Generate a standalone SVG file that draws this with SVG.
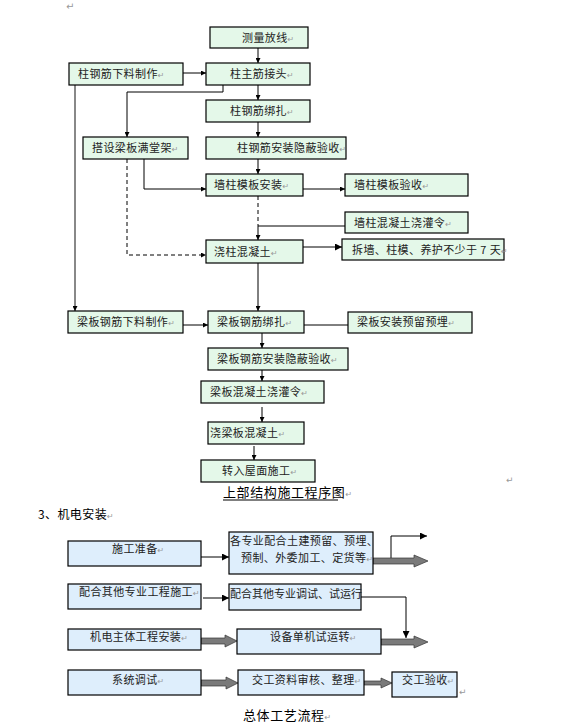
<svg xmlns="http://www.w3.org/2000/svg" width="574" height="727" viewBox="0 0 574 727">
<defs>
<style>
.g rect{fill:#e4f8e9;stroke:#000;stroke-width:1.2}
.b rect{fill:#deeefc;stroke:#000;stroke-width:1.2}
text{font-family:"Noto Sans CJK SC","Liberation Sans",sans-serif;font-size:11px;fill:#222;letter-spacing:0.4px}
.pm{font-family:"DejaVu Sans",sans-serif;font-size:8px;fill:#999;letter-spacing:0}
.c line,.c polyline,.c path{fill:none;stroke:#000;stroke-width:1}
.dash{stroke-dasharray:4 3}
.grey{stroke:#888 !important;stroke-width:2 !important}
.thick{fill:#7a7a7a;stroke:#333;stroke-width:0.7}
.cap{font-size:13px;fill:#000;letter-spacing:0.6px}
</style>
<marker id="a" viewBox="0 0 8 8" refX="8" refY="4" markerWidth="5" markerHeight="5" orient="auto" markerUnits="userSpaceOnUse"><path d="M0,0 L8,4 L0,8 Z" fill="#000"/></marker>
<marker id="af" viewBox="0 0 8 8" refX="8" refY="4" markerWidth="7" markerHeight="7" orient="auto" markerUnits="userSpaceOnUse"><path d="M0,0 L8,4 L0,8 Z" fill="#000"/></marker>
</defs>
<rect width="574" height="727" fill="#fff"/>
<text x="66" y="10" class="pm" style="font-size:10px">↵</text>

<g class="c">
<line x1="258" y1="48" x2="258" y2="63" marker-end="url(#a)"/>
<line x1="183" y1="73" x2="206" y2="73" marker-end="url(#a)"/>
<polyline points="223,85 223,92 127,92 127,137" marker-end="url(#a)"/>
<line x1="258" y1="85" x2="258" y2="100" marker-end="url(#a)"/>
<line x1="258" y1="122" x2="258" y2="137" marker-end="url(#a)"/>
<line x1="258" y1="159" x2="258" y2="174" marker-end="url(#a)"/>
<polyline points="144,159 144,189 206,189" marker-end="url(#a)"/>
<polyline class="dash" points="127,159 127,255 206,255" marker-end="url(#a)"/>
<line x1="303" y1="189" x2="345" y2="189" marker-end="url(#a)"/>
<line class="dash" x1="258" y1="196" x2="258" y2="226"/>
<line x1="258" y1="226" x2="258" y2="240" marker-end="url(#a)"/>
<line x1="258" y1="226" x2="345" y2="226"/>
<line x1="303" y1="247" x2="342" y2="247" marker-end="url(#af)"/>
<line x1="258" y1="263" x2="258" y2="311" marker-end="url(#a)"/>
<line class="grey" x1="75" y1="85" x2="75" y2="311" marker-end="url(#a)"/>
<line x1="183" y1="325" x2="208" y2="325" marker-end="url(#a)"/>
<line x1="304" y1="325" x2="348" y2="325"/>
<line x1="262" y1="333" x2="262" y2="348" marker-end="url(#a)"/>
<line x1="262" y1="370" x2="262" y2="381" marker-end="url(#a)"/>
<line x1="262" y1="407" x2="262" y2="422" marker-end="url(#a)"/>
<line x1="254" y1="446" x2="254" y2="460" marker-end="url(#a)"/>

<line x1="201" y1="557" x2="229" y2="557" marker-end="url(#af)"/>
<line x1="203" y1="598" x2="229" y2="598" marker-end="url(#af)"/>
<polyline points="391,561 391,536 427,536" marker-end="url(#af)"/>
<polyline points="361,597 406,597 406,638" marker-end="url(#af)"/>
<polygon class="thick" points="373,558 414,558 414,555 428,561 414,567 414,564 373,564"/>
<polygon class="thick" points="381,639 414,639 414,636 428,642 414,648 414,645 381,645"/>
<polygon class="thick" points="201,638 225,638 225,635 237,641 225,647 225,644 201,644"/>
<polygon class="thick" points="201,680 226,680 226,677 238,683 226,689 226,686 201,686"/>
<polygon class="thick" points="364,681 381,681 381,678 392,683 381,688 381,685 364,685"/>
</g>

<g id="n1" class="g"><rect x="210" y="27" width="98" height="21"/><text x="242" y="42">测量放线<tspan class="pm">↵</tspan></text></g>
<g id="n2" class="g"><rect x="69" y="63" width="114" height="22"/><text x="78" y="78">柱钢筋下料制作<tspan class="pm">↵</tspan></text></g>
<g id="n3" class="g"><rect x="206" y="63" width="104" height="22"/><text x="230" y="78">柱主筋接头<tspan class="pm">↵</tspan></text></g>
<g id="n4" class="g"><rect x="206" y="100" width="104" height="22"/><text x="230" y="115">柱钢筋绑扎<tspan class="pm">↵</tspan></text></g>
<g id="n5" class="g"><rect x="83" y="137" width="105" height="22"/><text x="92" y="152">搭设梁板满堂架<tspan class="pm">↵</tspan></text></g>
<g id="n6" class="g"><rect x="206" y="137" width="140" height="22"/><text x="237" y="152">柱钢筋安装隐蔽验收<tspan class="pm">↵</tspan></text></g>
<g id="n7" class="g"><rect x="206" y="174" width="97" height="22"/><text x="214" y="189">墙柱模板安装<tspan class="pm">↵</tspan></text></g>
<g id="n8" class="g"><rect x="345" y="174" width="123" height="22"/><text x="354" y="189">墙柱模板验收<tspan class="pm">↵</tspan></text></g>
<g id="n9" class="g"><rect x="345" y="212" width="123" height="21"/><text x="354" y="227">墙柱混凝土浇灌令<tspan class="pm">↵</tspan></text></g>
<g id="n10" class="g"><rect x="342" y="239" width="162" height="21"/><text x="352" y="254">拆墙、柱模、养护不少于 7 天<tspan class="pm">↵</tspan></text></g>
<g id="n11" class="g"><rect x="206" y="240" width="97" height="23"/><text x="214" y="256">浇柱混凝土<tspan class="pm">↵</tspan></text></g>
<g id="n12" class="g"><rect x="68" y="311" width="115" height="22"/><text x="77" y="326">梁板钢筋下料制作<tspan class="pm">↵</tspan></text></g>
<g id="n13" class="g"><rect x="208" y="311" width="96" height="22"/><text x="217" y="326">梁板钢筋绑扎<tspan class="pm">↵</tspan></text></g>
<g id="n14" class="g"><rect x="348" y="312" width="124" height="21"/><text x="357" y="326">梁板安装预留预埋<tspan class="pm">↵</tspan></text></g>
<g id="n15" class="g"><rect x="208" y="348" width="140" height="22"/><text x="217" y="363">梁板钢筋安装隐蔽验收<tspan class="pm">↵</tspan></text></g>
<g id="n16" class="g"><rect x="201" y="381" width="123" height="22"/><text x="210" y="396">梁板混凝土浇灌令<tspan class="pm">↵</tspan></text></g>
<g id="n17" class="g"><rect x="208" y="422" width="96" height="22"/><text x="210" y="437">浇梁板混凝土<tspan class="pm">↵</tspan></text></g>
<g id="n18" class="g"><rect x="201" y="460" width="114" height="22"/><text x="222" y="475">转入屋面施工<tspan class="pm">↵</tspan></text></g>

<text x="223" y="497" class="cap">上部结构施工程序图<tspan class="pm">↵</tspan></text>
<line x1="223" y1="500" x2="338" y2="500" stroke="#000" stroke-width="1"/>
<text x="506" y="483" class="pm" style="font-size:9px">↵</text>

<text x="38" y="519" style="font-size:12px;fill:#000">3、机电安装<tspan class="pm">↵</tspan></text>

<g id="m1" class="b"><rect x="68" y="541" width="133" height="25"/><text x="112" y="553">施工准备<tspan class="pm">↵</tspan></text></g>
<g id="m2" class="b"><rect x="68" y="584" width="133" height="25"/><text x="79" y="596">配合其他专业工程施工<tspan class="pm">↵</tspan></text></g>
<g id="m3" class="b"><rect x="68" y="629" width="133" height="21"/><text x="90" y="641">机电主体工程安装<tspan class="pm">↵</tspan></text></g>
<g id="m4" class="b"><rect x="68" y="670" width="133" height="25"/><text x="112" y="684">系统调试<tspan class="pm">↵</tspan></text></g>
<g id="m5" class="b"><rect x="229" y="532" width="144" height="42"/><text x="230" y="545">各专业配合土建预留、预埋、</text><text x="241" y="562">预制、外委加工、定货等<tspan class="pm">↵</tspan></text></g>
<g id="m6" class="b"><rect x="229" y="584" width="132" height="26"/><text x="230" y="598" style="letter-spacing:0">配合其他专业调试、试运行</text></g>
<g id="m7" class="b"><rect x="237" y="629" width="144" height="25"/><text x="270" y="641">设备单机试运转<tspan class="pm">↵</tspan></text></g>
<g id="m8" class="b"><rect x="238" y="670" width="126" height="25"/><text x="252" y="684">交工资料审核、整理<tspan class="pm">↵</tspan></text></g>
<g id="m9" class="b"><rect x="392" y="672" width="65" height="25"/><text x="402" y="684">交工验收<tspan class="pm">↵</tspan></text></g>
<text x="459" y="695" class="pm" style="font-size:9px">↵</text>

<text x="243" y="720" class="cap">总体工艺流程<tspan class="pm">↵</tspan></text>
</svg>
